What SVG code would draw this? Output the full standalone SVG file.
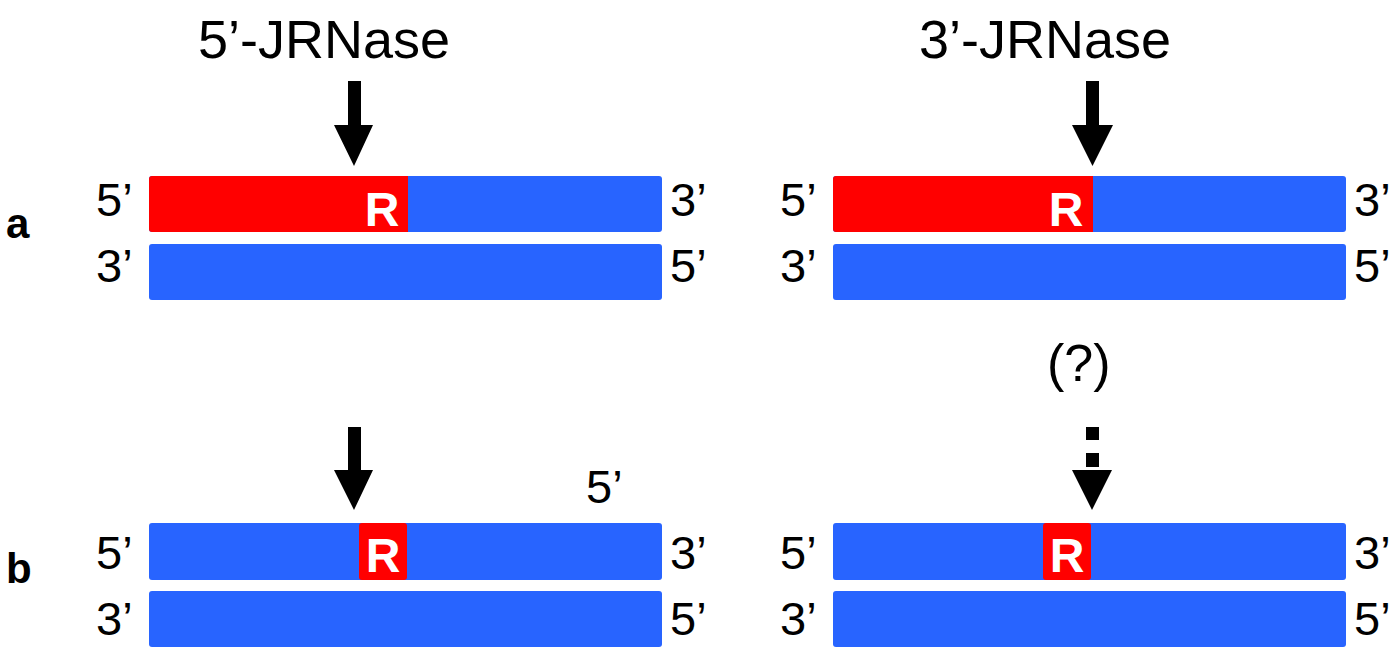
<svg xmlns="http://www.w3.org/2000/svg" width="1395" height="651" viewBox="0 0 1395 651">
<style>
.bg{fill:#ffffff}
.blue{fill:#2864FF}
.red{fill:#FF0000}
.lbl{font-family:"Liberation Sans",Arial,sans-serif;font-size:47px;fill:#000}
.title{font-family:"Liberation Sans",Arial,sans-serif;font-size:54px;fill:#000;text-anchor:middle}
.r{font-family:"Liberation Sans",Arial,sans-serif;font-size:48px;font-weight:bold;fill:#fff;text-anchor:middle}
.pl{font-family:"Liberation Sans",Arial,sans-serif;font-size:42px;font-weight:bold;fill:#000}
.arr{fill:#000}
</style>
<rect class="bg" x="0" y="0" width="1395" height="651"/>
<g id="titles">
<text class="title" x="324" y="58">5’-JRNase</text>
<text class="title" x="1045" y="58">3’-JRNase</text>
</g>
<g id="panel-labels">
<text class="pl" x="6" y="238">a</text>
<text class="pl" x="6" y="583">b</text>
</g>
<g id="a-left">
<rect class="blue" x="149" y="176" width="513" height="56" rx="3"/>
<rect class="red" x="149" y="176" width="259" height="56" rx="3"/>
<rect class="red" x="380" y="176" width="28" height="56"/>
<text class="r" x="382" y="226">R</text>
<rect class="blue" x="149" y="244" width="513" height="56" rx="3"/>
<text class="lbl" x="96" y="216">5’</text>
<text class="lbl" x="96" y="282">3’</text>
<text class="lbl" x="670" y="216">3’</text>
<text class="lbl" x="670" y="282">5’</text>
</g>
<g id="a-right">
<rect class="blue" x="833" y="176" width="513" height="56" rx="3"/>
<rect class="red" x="833" y="176" width="260" height="56" rx="3"/>
<rect class="red" x="1060" y="176" width="33" height="56"/>
<text class="r" x="1066" y="226">R</text>
<rect class="blue" x="833" y="244" width="513" height="56" rx="3"/>
<text class="lbl" x="780" y="216">5’</text>
<text class="lbl" x="780" y="282">3’</text>
<text class="lbl" x="1354" y="216">3’</text>
<text class="lbl" x="1354" y="282">5’</text>
</g>
<g id="b-left">
<rect class="blue" x="149" y="523" width="513" height="57" rx="3"/>
<rect class="red" x="359" y="523" width="48" height="57" rx="3"/>
<text class="r" x="383" y="572">R</text>
<rect class="blue" x="149" y="591" width="513" height="56" rx="3"/>
<text class="lbl" x="96" y="569">5’</text>
<text class="lbl" x="96" y="635">3’</text>
<text class="lbl" x="670" y="569">3’</text>
<text class="lbl" x="670" y="635">5’</text>
<text class="lbl" x="586" y="503">5’</text>
</g>
<g id="b-right">
<rect class="blue" x="833" y="523" width="513" height="57" rx="3"/>
<rect class="red" x="1043" y="523" width="48" height="57" rx="3"/>
<text class="r" x="1067" y="572">R</text>
<rect class="blue" x="833" y="591" width="513" height="56" rx="3"/>
<text class="lbl" x="780" y="569">5’</text>
<text class="lbl" x="780" y="635">3’</text>
<text class="lbl" x="1354" y="569">3’</text>
<text class="lbl" x="1354" y="635">5’</text>
<text class="lbl" x="1047" y="381" style="font-size:52px">(?)</text>
</g>
<g id="connectors">
<polygon class="arr" points="348,81 361,81 361,125 373,125 354,166 334,125 348,125"/>
<polygon class="arr" points="1086,81 1099,81 1099,125 1113,125 1092.5,166 1072,125 1086,125"/>
<polygon class="arr" points="348,427 361,427 361,470 373,470 354,510 334,470 348,470"/>
<rect class="arr" x="1086" y="427" width="13" height="13"/>
<rect class="arr" x="1086" y="453" width="13" height="14"/>
<polygon class="arr" points="1072,470 1112,470 1092,510"/>
</g>
</svg>
